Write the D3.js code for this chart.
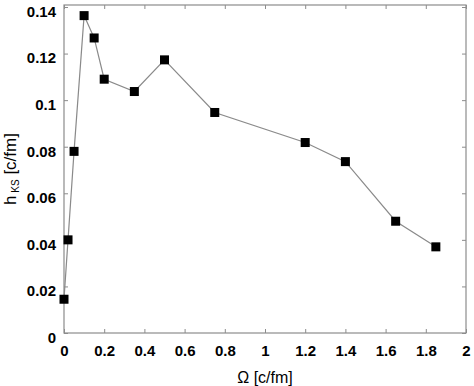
<!DOCTYPE html>
<html>
<head>
<meta charset="utf-8">
<script src="https://cdn.jsdelivr.net/npm/d3@7"></script>
<style>
  body { margin: 0; background: #fff; }
  svg text { font-family: Arial, "Liberation Sans", sans-serif; }
</style>
</head>
<body>
<div id="chart"></div>
<script>
var omega = [0, 0.02, 0.05, 0.1, 0.15, 0.2, 0.35, 0.5, 0.75, 1.2, 1.4, 1.65, 1.85];
var hKS = [0.0145, 0.040, 0.078, 0.1363, 0.1267, 0.109, 0.1037, 0.1173, 0.0947, 0.0818, 0.0736, 0.048, 0.037];
var xTicks = [0, 0.2, 0.4, 0.6, 0.8, 1, 1.2, 1.4, 1.6, 1.8, 2];
var yTicks = [0, 0.02, 0.04, 0.06, 0.08, 0.1, 0.12, 0.14];

var width = 474, height = 386;
var margin = {top: 5, left: 64, right: 8, bottom: 53};
var w = width - margin.left - margin.right;
var h = height - margin.top - margin.bottom;

var svg = d3.select('#chart').append('svg')
  .attr('width', width)
  .attr('height', height);

var plot = svg.append('g')
  .attr('transform', 'translate(' + margin.left + ',' + margin.top + ')');

var x = d3.scaleLinear().domain([0, 2]).range([0, w]);
var y = d3.scaleLinear().domain([0, 0.14]).range([h, 2]);

var axisColor = '#8c8c8c';

// box
plot.append('rect')
  .attr('x', 0).attr('y', 0)
  .attr('width', w).attr('height', h)
  .attr('fill', 'none')
  .attr('stroke', axisColor)
  .attr('stroke-width', 1.2);

// axes, ticks pointing inward
var xAxis = d3.axisBottom(x).tickValues(xTicks).tickSize(-4).tickPadding(12)
  .tickFormat(d3.format(''));
var yAxis = d3.axisLeft(y).tickValues(yTicks).tickSize(-4).tickPadding(8)
  .tickFormat(d3.format(''));

plot.append('g').attr('class', 'x-axis')
  .attr('transform', 'translate(0,' + h + ')')
  .call(xAxis);
plot.append('g').attr('class', 'y-axis')
  .call(yAxis);
plot.append('g').attr('class', 'x-top')
  .call(d3.axisTop(x).tickValues(xTicks).tickSize(-4).tickFormat(''));
plot.append('g').attr('class', 'y-right')
  .attr('transform', 'translate(' + w + ',0)')
  .call(d3.axisRight(y).tickValues(yTicks).tickSize(-4).tickFormat(''));

plot.selectAll('.domain').remove();
plot.selectAll('.tick line').attr('stroke', axisColor);
plot.selectAll('.tick text')
  .attr('fill', '#000')
  .attr('font-size', '15px')
  .attr('font-weight', 'bold');
// labels sit a bit below their ticks in the original
plot.selectAll('.y-axis .tick text').attr('dy', '0.62em');

// line
var line = d3.line()
  .x(function(d, i) { return x(omega[i]); })
  .y(function(d) { return y(d); });

plot.append('path')
  .attr('d', line(hKS))
  .attr('fill', 'none')
  .attr('stroke', '#8a8a8a')
  .attr('stroke-width', 1.2);

// markers
var s = 9;
plot.selectAll('.marker')
  .data(hKS)
  .enter()
  .append('rect')
  .attr('class', 'marker')
  .attr('x', function(d, i) { return x(omega[i]) - s / 2; })
  .attr('y', function(d) { return y(d) - s / 2; })
  .attr('width', s)
  .attr('height', s)
  .attr('fill', '#000');

// axis labels
svg.append('text')
  .attr('x', margin.left + w / 2)
  .attr('y', 383)
  .attr('text-anchor', 'middle')
  .attr('font-size', '16px')
  .text('\u03A9 [c/fm]');

var yl = svg.append('text')
  .attr('transform', 'translate(16,' + (margin.top + h / 2) + ') rotate(-90)')
  .attr('text-anchor', 'middle')
  .attr('font-size', '17px');
yl.append('tspan').text('h');
yl.append('tspan').attr('font-size', '10px').attr('dy', 3).text(' KS');
yl.append('tspan').attr('dy', -3).text(' [c/fm]');
</script>
</body>
</html>
